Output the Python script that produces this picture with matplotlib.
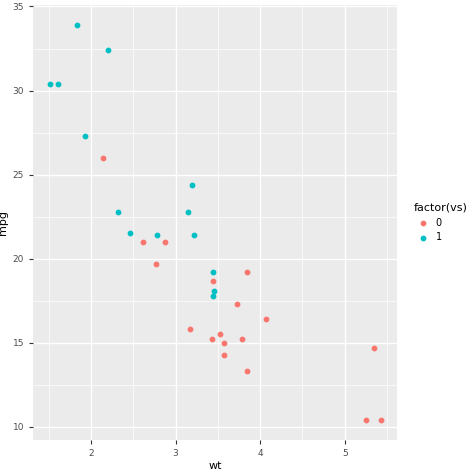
import numpy as np
import matplotlib.pyplot as plt

# mtcars: wt, mpg, vs
wt = [2.620, 2.875, 2.320, 3.215, 3.440, 3.460, 3.570, 3.190, 3.150, 3.440, 3.440,
      4.070, 3.730, 3.780, 5.250, 5.424, 5.345, 2.200, 1.615, 1.835, 2.465, 3.520,
      3.435, 3.840, 3.845, 1.935, 2.140, 1.513, 3.170, 2.770, 3.570, 2.780]
mpg = [21.0, 21.0, 22.8, 21.4, 18.7, 18.1, 14.3, 24.4, 22.8, 19.2, 17.8,
       16.4, 17.3, 15.2, 10.4, 10.4, 14.7, 32.4, 30.4, 33.9, 21.5, 15.5,
       15.2, 13.3, 19.2, 27.3, 26.0, 30.4, 15.8, 19.7, 15.0, 21.4]
vs = [0, 0, 1, 1, 0, 1, 0, 1, 1, 1, 1, 0, 0, 0, 0, 0, 0, 1, 1, 1, 1, 0,
      0, 0, 0, 1, 0, 1, 0, 0, 0, 1]
levels = [0, 1]
colors = ['#F8766D', '#00BFC4']

wt = np.array(wt); mpg = np.array(mpg); vs = np.array(vs)

fig = plt.figure(figsize=(4.74, 4.74), dpi=100)
ax = fig.add_axes([0.07, 0.072, 0.768, 0.917])
ax.set_facecolor('#EBEBEB')
for s in ax.spines.values():
    s.set_visible(False)

for lv, c in zip(levels, colors):
    m = vs == lv
    ax.scatter(wt[m], mpg[m], s=10, color=c, zorder=3, label=str(lv))

xr = wt.max() - wt.min(); yr = mpg.max() - mpg.min()
ax.set_xlim(wt.min() - 0.05 * xr, wt.max() + 0.05 * xr)
ax.set_ylim(mpg.min() - 0.05 * yr, mpg.max() + 0.05 * yr)
ax.set_xticks([2, 3, 4, 5])
ax.set_yticks([10, 15, 20, 25, 30, 35])
ax.set_xticks([1.5, 2.5, 3.5, 4.5, 5.5], minor=True)
ax.set_yticks([12.5, 17.5, 22.5, 27.5, 32.5], minor=True)
ax.grid(True, which='major', color='white', lw=1.0, zorder=0)
ax.grid(True, which='minor', color='white', lw=0.5, zorder=0)
ax.set_axisbelow(True)
ax.tick_params(which='major', length=3, color='#333333', labelsize=6.5, labelcolor='#4D4D4D')
ax.tick_params(which='minor', length=0)
ax.set_xlabel('wt', fontsize=8, labelpad=2)
ax.set_ylabel('mpg', fontsize=8, labelpad=3)

leg = ax.legend(title='factor(vs)', loc='center left', bbox_to_anchor=(1.02, 0.5),
                frameon=False, fontsize=7, title_fontsize=8, handletextpad=0.3,
                markerscale=1.0, borderaxespad=0.5)
leg._legend_box.align = 'left'
for h in leg.legend_handles:
    h.set_facecolor(h.get_facecolor())
fig.savefig('out.png', dpi=100)
